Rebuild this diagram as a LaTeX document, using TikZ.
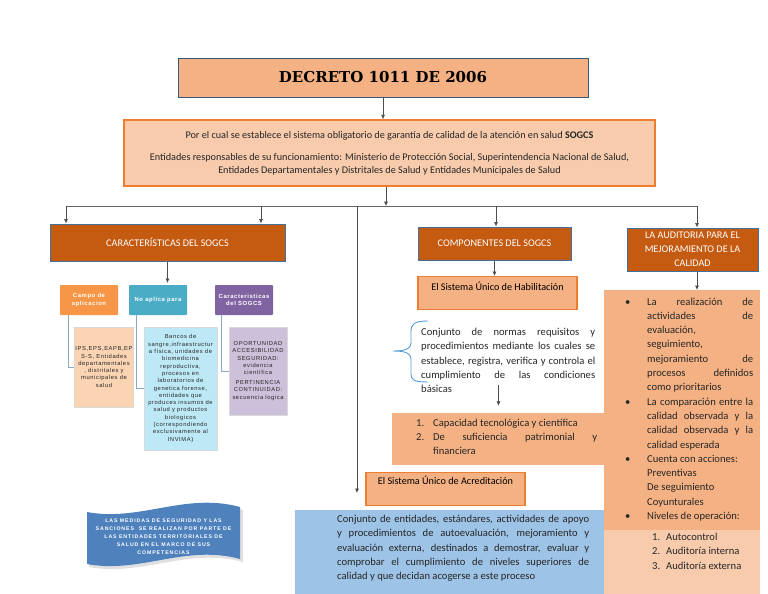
\documentclass[tikz,border=0pt]{standalone}
\usepackage{fontspec}
\setmainfont{Carlito}
\newfontfamily\titulo{DejaVu Serif}
\newfontfamily\arte[LetterSpace=10]{Liberation Sans}
\newfontfamily\olafont[LetterSpace=18]{Liberation Sans}
\usetikzlibrary{arrows.meta}

\definecolor{salmon}{HTML}{F4B183}
\definecolor{salmonclaro}{HTML}{F8CBAD}
\definecolor{naranjaborde}{HTML}{ED7D31}
\definecolor{marron}{HTML}{C55A11}
\definecolor{azulborde}{HTML}{41719C}
\definecolor{celeste}{HTML}{9DC3E6}
\definecolor{naranja}{HTML}{F79646}
\definecolor{turquesa}{HTML}{4BACC6}
\definecolor{morado}{HTML}{8064A2}
\definecolor{durazno}{HTML}{FBD4B4}
\definecolor{cianclaro}{HTML}{BDE9F6}
\definecolor{lavanda}{HTML}{CCC0DA}
\definecolor{ola}{HTML}{4F81BD}
\definecolor{llave}{HTML}{5B9BD5}

% linea justificada a mano
\newcommand{\jl}[2]{\makebox[#1pt][s]{#2}}
\newcommand{\bala}{\makebox[25pt][l]{\hspace{3pt}\textbullet}}
\newcommand{\sangria}{\hspace*{25pt}}

\begin{document}
\begin{tikzpicture}[x=1pt,y=-1pt,
  texto/.style={font=\fontsize{10.6}{14.3}\selectfont, text=black!85},
  caja/.style={draw=naranjaborde, line width=1.1pt, fill=salmon},
  cabecera/.style={draw=azulborde, line width=1pt, fill=marron, text=white,
    font=\fontsize{10.2}{14}\selectfont, align=center},
  flecha/.style={draw=black!70, line width=0.7pt, -{Latex[length=4.5pt,width=4pt]}},
  linea/.style={draw=black!60, line width=0.7pt},
  smart/.style={minimum width=58pt, minimum height=30pt, text=white, align=center,
    font=\fontsize{5.9}{7.6}\arte\bfseries, rounded corners=0.8pt},
  sub/.style={draw=black!15, align=center, text=black!85, inner sep=1pt,
    font=\fontsize{5.8}{7.3}\arte},
  conec/.style={draw=azulborde!60, line width=0.8pt}]

  \useasboundingbox (0,0) rectangle (768,594);

  % Titulo y objeto del decreto
  \node[caja, draw=azulborde!80!black, line width=0.9pt, minimum width=410pt, minimum height=39pt,
    font=\fontsize{15}{18}\titulo\bfseries] (decreto) at (383,77.5) {DECRETO 1011 DE 2006};
  \node[caja, fill=salmonclaro, minimum width=531pt, minimum height=66pt, align=center,
    font=\fontsize{10.2}{13}\selectfont, text=black!85] (objeto) at (389.5,153)
    {Por el cual se establece el sistema obligatorio de garantía de calidad de la atención en salud \textbf{SOGCS}\\[9pt]
     Entidades responsables de su funcionamiento: Ministerio de Protección Social, Superintendencia Nacional de Salud,\\
     Entidades Departamentales y Distritales de Salud y Entidades Municipales de Salud};

  % Ramas principales
  \node[cabecera, minimum width=235pt, minimum height=37pt] (caract) at (167.5,242.5) {CARACTERÍSTICAS DEL SOGCS};
  \node[cabecera, minimum width=153pt, minimum height=33pt] (compon) at (494.5,243.5) {COMPONENTES DEL SOGCS};
  \node[cabecera, minimum width=131pt, minimum height=43pt] (audit) at (692.5,249.5)
    {LA AUDITORIA PARA EL\\MEJORAMIENTO DE LA\\CALIDAD};

  \coordinate (rama) at (386,206);
  \coordinate (ramaI) at (66,206);
  \coordinate (ramaD) at (697,206);
  \coordinate (bajada) at (357,493);
  \coordinate (smarttop) at (168,283);

  \draw[flecha] (decreto.south) -- (decreto.south |- objeto.north);
  \draw[flecha] (objeto.south -| rama) -- (rama);
  \draw[linea] (ramaI) -- (ramaD);
  \foreach \x/\dest in {66/caract,261/caract,496/compon,697/audit} {
    \draw[flecha] (\x,0 |- rama) -- (\x,0 |- \dest.north);
  }
  \draw[flecha] (rama -| bajada) -- (bajada);
  \draw[flecha] (caract.south) -- (caract.south |- smarttop);

  % Caracteristicas (grafico de la izquierda)
  \node[smart, fill=naranja] (campo) at (89,300) {Campo de\\aplicacion};
  \node[smart, fill=turquesa] (noaplica) at (158,300) {No aplica para};
  \node[smart, fill=morado] (caracs) at (244,300) {Caracteristicas\\del SOGCS};

  \node[sub, fill=durazno, minimum width=58pt, minimum height=80pt] (campotexto) at (104,367)
    {IPS,EPS,EAPB,EP\\S-S, Entidades\\departamentales\\, distritales y\\municipales de\\salud};
  \node[sub, fill=cianclaro, minimum width=73pt, minimum height=123pt] (noaplicatexto) at (180.5,388.5)
    {Bancos de\\sangre,infraestructur\\a física, unidades de\\biomedicina\\reproductiva,\\procesos en\\laboratorios de\\genetica forense,\\entidades que\\produces insumos de\\salud y productos\\biologicos\\(correspondiendo\\exclusivamente al\\INVIMA)};
  \node[sub, fill=lavanda, minimum width=58pt, minimum height=88pt] (caracstexto) at (258,371)
    {OPORTUNIDAD\\ACCESIBILIDAD\\SEGURIDAD:\\evidencia\\científica\\[2.5pt]PERTINENCIA\\CONTINUIDAD:\\secuencia logica};

  \draw[conec] ([xshift=9pt]campo.south west) |- (campotexto.west);
  \draw[conec] ([xshift=8pt]noaplica.south west) |- (noaplicatexto.west);
  \draw[conec] ([xshift=7pt]caracs.south west) |- (caracstexto.west);

  % Medidas de seguridad
  \fill[black!12] (89,515) .. controls (142,525) and (187,495) .. (243,510)
    -- (243,562) .. controls (187,547) and (142,577) .. (89,567) -- cycle;
  \fill[ola] (87,512) .. controls (140,522) and (185,492) .. (240,507)
    -- (240,559) .. controls (185,544) and (140,574) .. (87,564) -- cycle;
  \node[text=white, align=center, font=\fontsize{5.2}{8.1}\olafont\bfseries] (olatexto) at (163.5,537)
    {LAS MEDIDAS DE SEGURIDAD Y LAS\\SANCIONES\ \ SE REALIZAN POR PARTE DE\\LAS ENTIDADES TERRITORIALES DE\\SALUD EN EL MARCO DE SUS\\COMPETENCIAS};

  % Componentes
  \node[caja, minimum width=159pt, text height=14pt, text depth=19pt, inner ysep=0pt, anchor=north,
    font=\fontsize{10.2}{13}\selectfont] (habil) at (497.5,276) {El Sistema Único de Habilitación};
  \draw[flecha] (compon.south) -- (compon.south |- habil.north);

  \node[texto, anchor=north west, inner sep=0pt, align=left] (habtexto) at (421,328)
    {\jl{174}{Conjunto de normas requisitos y}\\
     \jl{174}{procedimientos mediante los cuales se}\\
     \jl{174}{establece, registra, verifica y controla el}\\
     \jl{174}{cumplimiento de las condiciones}\\
     básicas};
  \draw[llave, line width=0.9pt] (428,321) .. controls (414,321) and (411,324) .. (411,332) -- (411,343)
    .. controls (411,349) and (405,351) .. (393,351) .. controls (405,351) and (411,353) .. (411,359)
    -- (411,374) .. controls (411,380) and (414,382) .. (428,382);

  \node[fill=salmon, minimum width=213pt, minimum height=52pt] (capac) at (498.5,439) {};
  \draw[flecha, shorten <=-8pt, shorten >=7pt] (capac.north |- habtexto.south) -- (capac.north);
  \node[texto, anchor=north west, inner sep=0pt, align=left] (capactexto) at (416,418.5)
    {\makebox[17pt][l]{1.}Capacidad tecnológica y científica\\
     \makebox[17pt][l]{2.}\jl{164}{De suficiencia patrimonial y}\\
     \hspace*{17pt}financiera};

  \node[caja, minimum width=159pt, text height=12pt, text depth=21pt, inner ysep=0pt, anchor=north,
    font=\fontsize{10.2}{13}\selectfont] (acred) at (445.5,472) {El Sistema Único de Acreditación};

  \node[fill=celeste, minimum width=310pt, minimum height=90pt, anchor=north west] (acredcaja) at (295,510) {};
  \node[texto, anchor=north west, inner sep=0pt, align=left] (acredtexto) at (337,515)
    {\jl{252}{Conjunto de entidades, estándares, actividades de apoyo}\\
     \jl{252}{y procedimientos de autoevaluación, mejoramiento y}\\
     \jl{252}{evaluación externa, destinados a demostrar, evaluar y}\\
     \jl{252}{comprobar el cumplimiento de niveles superiores de}\\
     calidad y que decidan acogerse a este proceso};

  % Auditoria
  \node[fill=salmon, minimum width=156pt, minimum height=240pt, anchor=north west] (auditcaja) at (604,290) {};
  \node[fill=salmonclaro, minimum width=156pt, minimum height=70pt, anchor=north west] (nivelcaja) at (604,530) {};
  \draw[flecha] (697,0 |- audit.south) -- (697,0 |- auditcaja.north);

  \node[texto, anchor=north west, inner sep=0pt, align=left] (audittexto) at (622,297.5)
    {\bala\jl{106}{La realización de}\\
     \sangria\jl{106}{actividades de}\\
     \sangria evaluación,\\
     \sangria seguimiento,\\
     \sangria\jl{106}{mejoramiento de}\\
     \sangria\jl{106}{procesos definidos}\\
     \sangria como prioritarios\\
     \bala\jl{106}{La comparación entre la}\\
     \sangria\jl{106}{calidad observada y la}\\
     \sangria\jl{106}{calidad observada y la}\\
     \sangria calidad esperada\\
     \bala Cuenta con acciones:\\
     \sangria Preventivas\\
     \sangria De seguimiento\\
     \sangria Coyunturales\\
     \bala Niveles de operación:};
  \node[texto, anchor=north west, inner sep=0pt, align=left] (niveltexto) at (652,533)
    {\makebox[14pt][l]{1.}Autocontrol\\
     \makebox[14pt][l]{2.}Auditoría interna\\
     \makebox[14pt][l]{3.}Auditoría externa};
\end{tikzpicture}
\end{document}
